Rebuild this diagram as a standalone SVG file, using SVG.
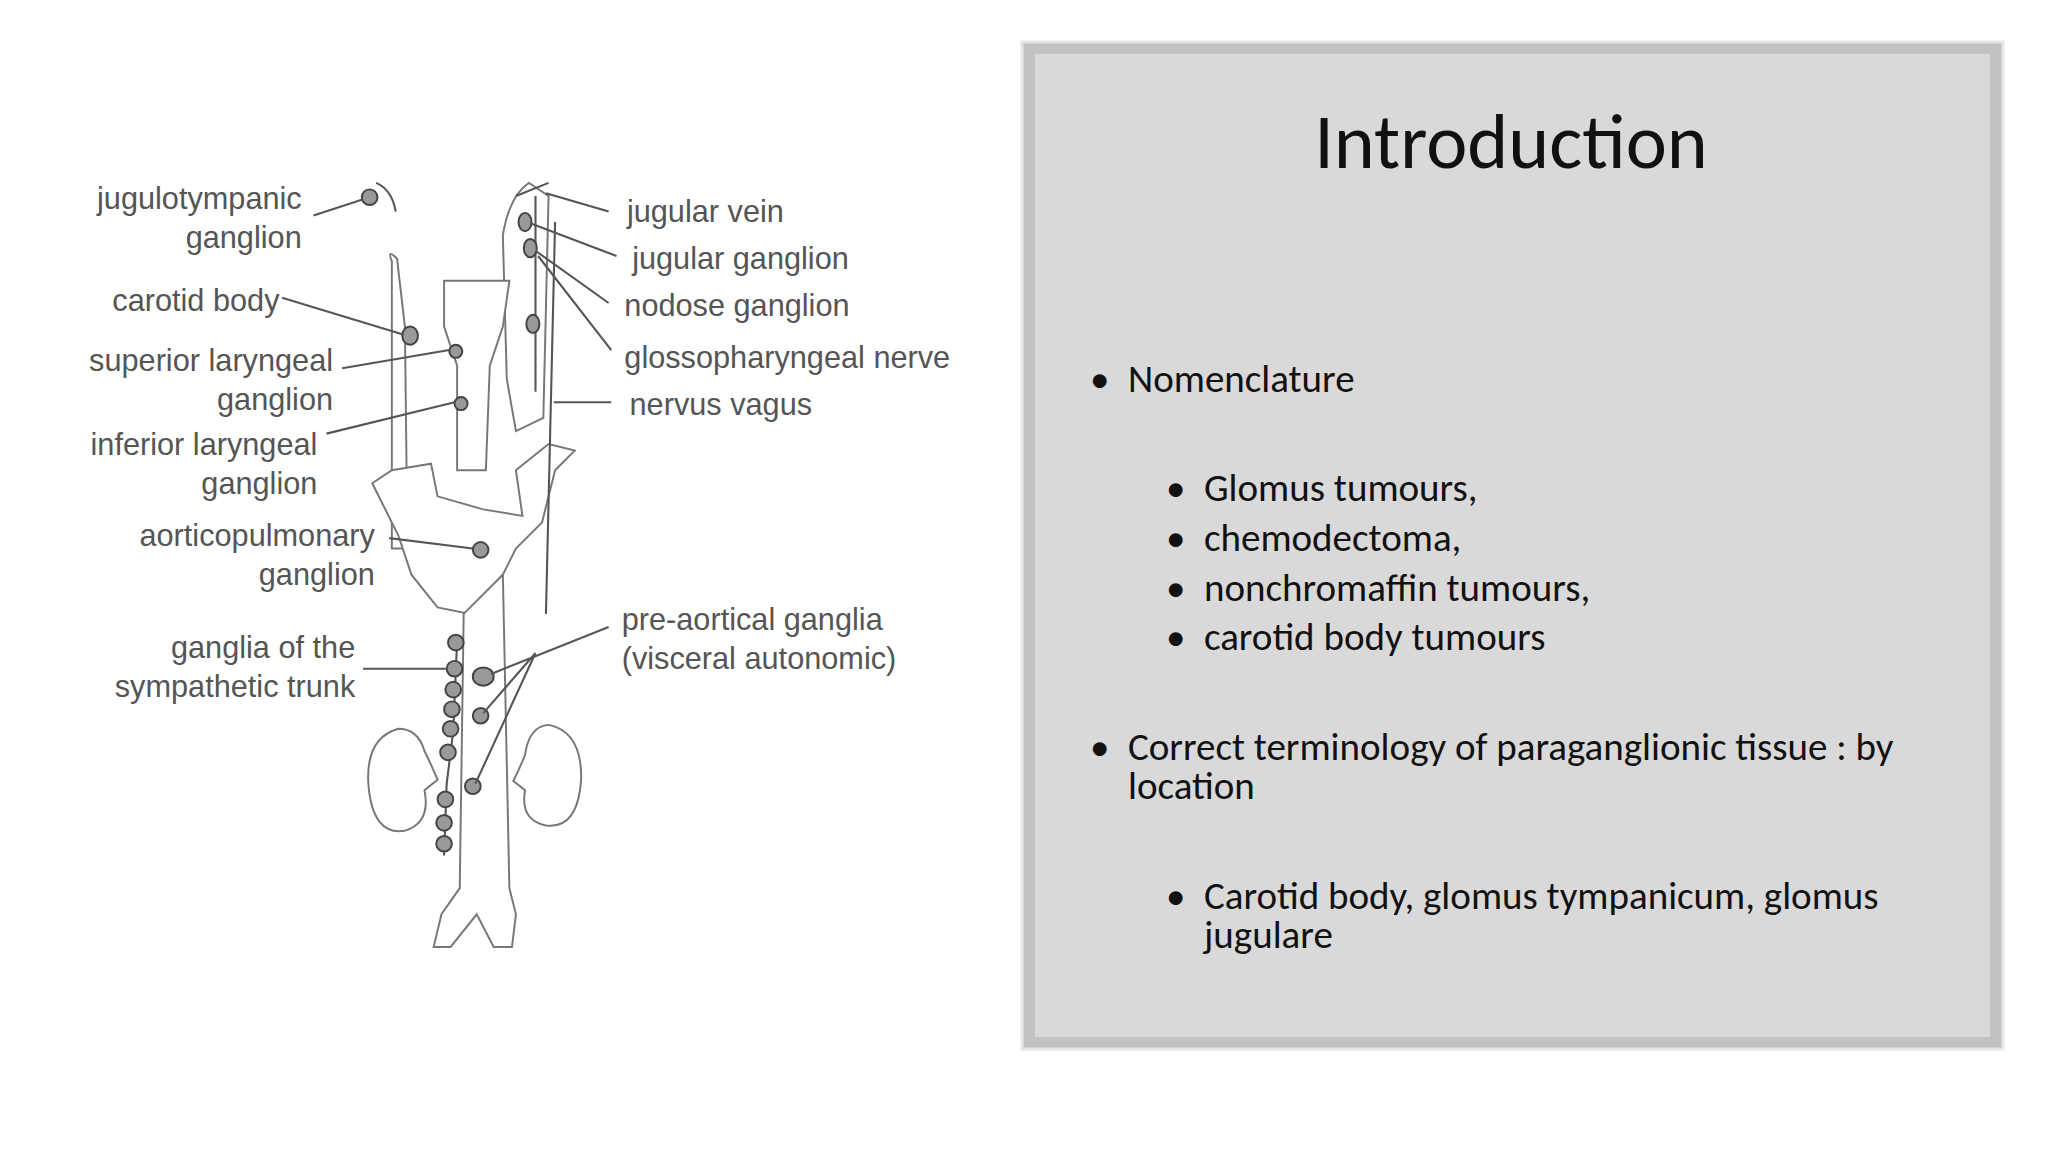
<svg xmlns="http://www.w3.org/2000/svg" width="2048" height="1152" viewBox="0 0 2048 1152">
<style>
.lb{font-family:"Liberation Sans",Arial,sans-serif;font-size:23.5px;fill:#555}
.r{text-anchor:end}
.ld{stroke:#555;stroke-width:1.6;fill:none}
.ol{stroke:#777;stroke-width:1.5;fill:#fff}
.g{fill:#999;stroke:#444;stroke-width:1.5}
.tx{font-family:Calibri,"Carlito","Liberation Sans",sans-serif;fill:#111}
</style>
<rect width="2048" height="1152" fill="#fff"/>
<g id="panel">
<rect x="1022" y="42" width="981" height="1007" fill="#c2c2c2" stroke="#e6e6e6" stroke-width="3"/>
<rect x="1035" y="54" width="955" height="983" fill="#d9d9d9"/>
<text class="tx" x="1511" y="168" font-size="78" text-anchor="middle" fill="#222">Introduction</text>
<g class="tx" font-size="39">
<text x="1090" y="392">•</text><text x="1128" y="392">Nomenclature</text>
<text x="1166" y="501">•</text><text x="1204" y="501">Glomus tumours,</text>
<text x="1166" y="551">•</text><text x="1204" y="551">chemodectoma,</text>
<text x="1166" y="601">•</text><text x="1204" y="601">nonchromaffin tumours,</text>
<text x="1166" y="650">•</text><text x="1204" y="650">carotid body tumours</text>
<text x="1090" y="760">•</text><text x="1128" y="760">Correct terminology of paraganglionic tissue :  by</text>
<text x="1128" y="799">location</text>
<text x="1166" y="909">•</text><text x="1204" y="909">Carotid body, glomus tympanicum, glomus</text>
<text x="1204" y="948">jugulare</text>
</g>
</g>
<g id="diagram" transform="scale(1.3061)">
<g id="anatomy">
<path class="ol" d="M300,200 Q296,190 304,198 L310,250 L312,420 L300,420 L300,205 Z"/>
<path class="ol" d="M385,180 Q390,150 405,140 L420,150 L416,320 L395,330 L388,290 Z"/>
<path class="ol" d="M340,215 L390,215 L385,250 L375,280 L372,360 L350,360 L350,280 L340,250 Z"/>
<path class="ol" d="M300,360 L330,355 L335,380 L370,390 L400,395 L395,360 L420,340 L440,345 L425,360 L415,400 L395,420 L385,440 L360,470 L335,465 L315,440 L305,410 L285,370 Z"/>
<path class="ol" d="M355,470 L385,440 L390,680 L395,700 L392,725 L378,725 L365,700 L345,725 L332,725 L338,700 L352,680 Z"/>
<path class="ol" d="M305,558 Q280,565 282,600 Q285,640 310,636 Q330,630 325,605 L335,597 Q330,585 325,575 Q320,558 305,558 Z"/>
<path class="ol" d="M420,555 Q445,560 445,595 Q443,635 418,632 Q398,628 402,605 L393,598 Q398,588 402,578 Q405,556 420,555 Z"/>
<path class="ld" d="M395,150 L420,140 M410,150 L410,300 M425,170 L418,470 M288,140 Q300,145 303,162"/>
<path class="ld" d="M350,490 L347,560 L342,600 L340,655"/>
</g>
<g id="ganglia">
<ellipse class="g" cx="283" cy="151" rx="6" ry="6"/>
<ellipse class="g" cx="314" cy="257" rx="6" ry="7"/>
<ellipse class="g" cx="349" cy="269" rx="5" ry="5"/>
<ellipse class="g" cx="353" cy="309" rx="5" ry="5"/>
<ellipse class="g" cx="368" cy="421" rx="6" ry="6"/>
<ellipse class="g" cx="402" cy="170" rx="5" ry="7"/>
<ellipse class="g" cx="406" cy="190" rx="5" ry="7"/>
<ellipse class="g" cx="408" cy="248" rx="5" ry="7"/>
<ellipse class="g" cx="370" cy="518" rx="8" ry="7"/>
<ellipse class="g" cx="368" cy="548" rx="6" ry="6"/>
<ellipse class="g" cx="362" cy="602" rx="6" ry="6"/>
<g>
<circle class="g" cx="349" cy="492" r="6"/><circle class="g" cx="348" cy="512" r="6"/><circle class="g" cx="347" cy="528" r="6"/><circle class="g" cx="346" cy="543" r="6"/><circle class="g" cx="345" cy="558" r="6"/><circle class="g" cx="343" cy="576" r="6"/><circle class="g" cx="341" cy="612" r="6"/><circle class="g" cx="340" cy="630" r="6"/><circle class="g" cx="340" cy="646" r="6"/>
</g>
</g>
<g id="connectors" class="ld">
<path d="M240,165 L277,153"/>
<path d="M216,228 L308,256"/>
<path d="M262,282 L344,268"/>
<path d="M250,332 L348,308"/>
<path d="M298,412 L362,420"/>
<path d="M278,512 L342,512"/>
<path d="M466,162 L418,148"/>
<path d="M472,196 L406,171"/>
<path d="M466,232 L410,192"/>
<path d="M468,268 L412,196"/>
<path d="M468,308 L424,308"/>
<path d="M466,480 L376,516 M410,500 L370,546 M410,500 L364,600"/>
</g>
<g id="labels" class="lb">
<text class="r" x="231" y="160">jugulotympanic</text><text class="r" x="231" y="190">ganglion</text>
<text class="r" x="214" y="238">carotid body</text>
<text class="r" x="255" y="284">superior laryngeal</text><text class="r" x="255" y="314">ganglion</text>
<text class="r" x="243" y="348">inferior laryngeal</text><text class="r" x="243" y="378">ganglion</text>
<text class="r" x="287" y="418">aorticopulmonary</text><text class="r" x="287" y="448">ganglion</text>
<text class="r" x="272" y="504">ganglia of the</text><text class="r" x="272" y="534">sympathetic trunk</text>
<text x="480" y="170">jugular vein</text>
<text x="484" y="206">jugular ganglion</text>
<text x="478" y="242">nodose ganglion</text>
<text x="478" y="282">glossopharyngeal nerve</text>
<text x="482" y="318">nervus vagus</text>
<text x="476" y="482">pre-aortical ganglia</text>
<text x="476" y="512">(visceral autonomic)</text>
</g>
</g>
</svg>
